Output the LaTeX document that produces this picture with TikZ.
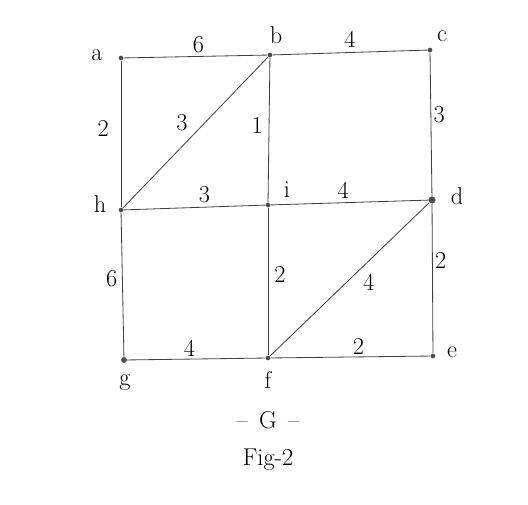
\documentclass[tikz,border=0pt]{standalone}
\usepackage{tikz}

\tikzset{
    vtx/.style={circle,fill=black!70,inner sep=0pt,minimum size=4pt},
    lbl/.style={font=\huge,inner sep=1pt},
    edge/.style={draw=black!75,line width=0.7pt}
}

\begin{document}
\begin{tikzpicture}[x=0.03cm,y=-0.03cm]
        \useasboundingbox (0,0) rectangle (528,505);
        % vertices
        \node[vtx] (a) at (121,58) {};
        \node[vtx] (b) at (270,55) {};
        \node[vtx] (c) at (430,50) {};
        \node[vtx] (h) at (121,210) {};
        \node[vtx] (i) at (268,205) {};
        \node[vtx,minimum size=6pt] (d) at (432,200) {};
        \node[vtx,minimum size=5pt] (g) at (124,360) {};
        \node[vtx] (f) at (268,358) {};
        \node[vtx] (e) at (433,356) {};
        % vertex names
        \node[lbl] (la) at (97,55) {a};
        \node[lbl] (lb) at (276,35) {b};
        \node[lbl] (lc) at (442,36) {c};
        \node[lbl] (lh) at (100,204) {h};
        \node[lbl] (li) at (287,190) {i};
        \node[lbl] (ld) at (457,196) {d};
        \node[lbl] (lg) at (125,383) {g};
        \node[lbl] (lf) at (268,380) {f};
        \node[lbl] (le) at (452,352) {e};
        % edges
        \draw[edge] (a) -- (b) node[lbl,pos=0.52,above=2pt] {6};
        \draw[edge] (b) -- (c) node[lbl,pos=0.5,above=3pt] {4};
        \draw[edge] (a) -- (h) node[lbl,pos=0.46,left=9pt] {2};
        \draw[edge] (b) -- (h) node[lbl,pos=0.52,above left=3pt] {3};
        \draw[edge] (b) -- (i) node[lbl,pos=0.47,left=4pt] {1};
        \draw[edge] (c) -- (d) node[lbl,pos=0.43,right=1pt] {3};
        \draw[edge] (h) -- (i) node[lbl,pos=0.57,above=2pt] {3};
        \draw[edge] (i) -- (d) node[lbl,pos=0.46,above=2pt] {4};
        \draw[edge] (h) -- (g) node[lbl,pos=0.46,left=3pt] {6};
        \draw[edge] (i) -- (f) node[lbl,pos=0.45,right=4pt] {2};
        \draw[edge] (f) -- (d) node[lbl,pos=0.56,below right=2pt] {4};
        \draw[edge] (d) -- (e) node[lbl,pos=0.38,right=1pt] {2};
        \draw[edge] (g) -- (f) node[lbl,pos=0.45,above=1pt] {4};
        \draw[edge] (f) -- (e) node[lbl,pos=0.55,above=1pt] {2};
        % caption
        \node[lbl] (cap) at (268,420) {-- \,G\, --};
        \node[lbl] (fig) at (268,460) {Fig-2};
    \end{tikzpicture}
\end{document}
